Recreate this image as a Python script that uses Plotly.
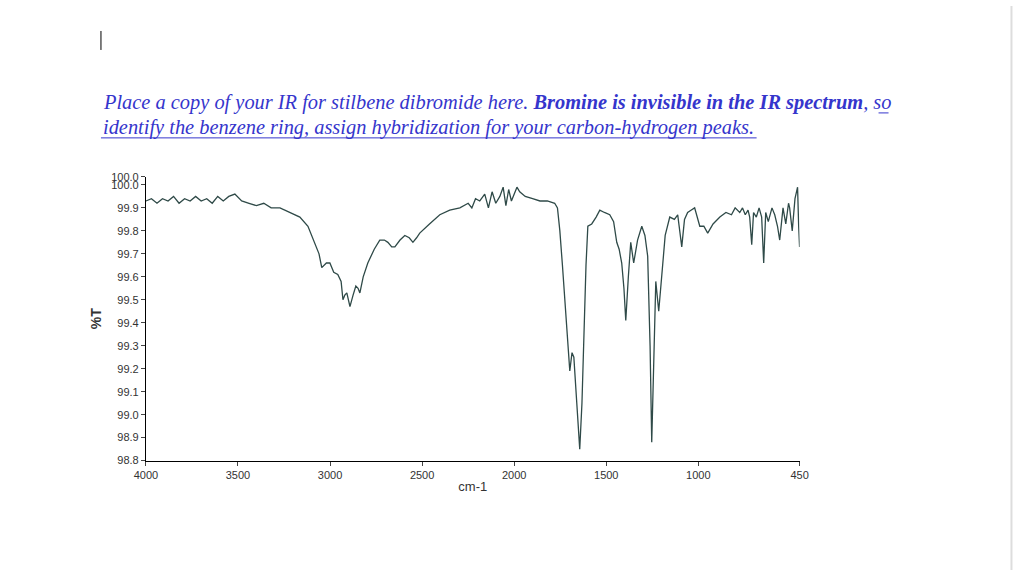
import plotly.graph_objects as go

# IR spectrum of stilbene dibromide
wavenumber = [4000, 3970, 3940, 3910, 3880, 3850, 3820, 3790, 3760, 3730, 3700, 3670, 3640, 3610,
              3580, 3550, 3517, 3480, 3440, 3400, 3360, 3320, 3272, 3220, 3164, 3120, 3083, 3060,
              3045, 3020, 3001, 2980, 2958, 2940, 2930, 2920, 2909, 2900, 2892, 2875, 2860, 2848,
              2838, 2820, 2795, 2760, 2730, 2705, 2686, 2665, 2648, 2620, 2594, 2570, 2550, 2530,
              2513, 2460, 2404, 2350, 2295, 2250, 2230, 2210, 2187, 2160, 2140, 2120, 2100, 2078,
              2060, 2045, 2030, 2015, 2000, 1985, 1970, 1940, 1900, 1860, 1820, 1780, 1765, 1752,
              1738, 1725, 1710, 1698, 1686, 1676, 1660, 1644, 1632, 1622, 1610, 1600, 1579, 1555,
              1535, 1510, 1481, 1460, 1443, 1430, 1416, 1404, 1394, 1380, 1367, 1351, 1330, 1307,
              1290, 1275, 1262, 1253, 1242, 1231, 1215, 1199, 1180, 1155, 1130, 1112, 1090, 1075,
              1058, 1040, 1020, 992, 970, 949, 920, 883, 850, 820, 800, 775, 760, 745, 730, 721,
              710, 700, 685, 670, 656, 645, 634, 620, 600, 585, 570, 558, 540, 525, 510, 504, 490,
              475, 461, 455, 450]
transmittance = [99.93, 99.94, 99.92, 99.94, 99.93, 99.95, 99.92, 99.94, 99.93, 99.95, 99.93, 99.94,
                 99.92, 99.95, 99.93, 99.95, 99.96, 99.93, 99.92, 99.91, 99.92, 99.90, 99.90, 99.88,
                 99.86, 99.82, 99.75, 99.70, 99.64, 99.66, 99.66, 99.62, 99.61, 99.58, 99.50, 99.52,
                 99.53, 99.49, 99.47, 99.52, 99.56, 99.55, 99.53, 99.60, 99.66, 99.72, 99.76, 99.76,
                 99.75, 99.73, 99.73, 99.76, 99.78, 99.77, 99.75, 99.77, 99.79, 99.83, 99.87, 99.89,
                 99.90, 99.92, 99.90, 99.94, 99.93, 99.96, 99.90, 99.97, 99.92, 99.95, 99.99, 99.91,
                 99.98, 99.93, 99.96, 99.99, 99.97, 99.95, 99.94, 99.93, 99.93, 99.92, 99.90, 99.80,
                 99.65, 99.49, 99.30, 99.19, 99.27, 99.25, 99.05, 98.85, 99.05, 99.36, 99.65, 99.82,
                 99.83, 99.86, 99.89, 99.88, 99.87, 99.84, 99.75, 99.72, 99.66, 99.55, 99.41, 99.60,
                 99.75, 99.66, 99.76, 99.82, 99.78, 99.69, 99.30, 98.88, 99.30, 99.58, 99.45, 99.62,
                 99.78, 99.86, 99.85, 99.87, 99.73, 99.85, 99.88, 99.89, 99.90, 99.82, 99.82, 99.79,
                 99.83, 99.86, 99.88, 99.87, 99.90, 99.88, 99.90, 99.87, 99.89, 99.86, 99.74, 99.88,
                 99.86, 99.90, 99.86, 99.66, 99.88, 99.84, 99.90, 99.87, 99.82, 99.76, 99.90, 99.83,
                 99.92, 99.90, 99.80, 99.94, 99.99, 99.82, 99.73]
ytick_vals = [98.8, 98.9, 99.0, 99.1, 99.2, 99.3, 99.4, 99.5, 99.6, 99.7, 99.8, 99.9, 100.0, 100.035]
ytick_text = ["98.8", "98.9", "99.0", "99.1", "99.2", "99.3", "99.4", "99.5", "99.6",
              "99.7", "99.8", "99.9", "100.0", "100.0"]
xtick_vals = [4000, 3500, 3000, 2500, 2000, 1500, 1000, 450]

line1 = ("Place a copy of your IR for stilbene dibromide here. "
         "<b>Bromine is invisible in the IR spectrum</b>, so")
line2 = "identify the benzene ring, assign hybridization for your carbon-hydrogen peaks. "

W, H = 1024, 576
S = 0.98  # the page shows up slightly shrunk, so compensate


def fx(x):
    return ((x - 12) / S) / W


def fy(y):
    return 1 - ((y - 4) / S) / H


fig = go.Figure()
fig.add_trace(go.Scatter(x=wavenumber, y=transmittance, mode="lines",
                         line=dict(color="#2f4a48", width=1.3), showlegend=False))

ink = "#3535cc"
fig.update_layout(
    width=W, height=H, margin=dict(l=0, r=0, t=0, b=0),
    paper_bgcolor="white", plot_bgcolor="white",
    font=dict(family="Liberation Sans, Arial", size=11, color="#333333"),
    xaxis=dict(domain=[fx(146), fx(800)], range=[4000, 450], showgrid=False, zeroline=False,
               tickvals=xtick_vals,
               showline=True, linecolor="black", ticks="outside", ticklen=4,
               title=dict(text="cm-1", font=dict(size=13), standoff=2)),
    yaxis=dict(domain=[fy(459), fy(175)], range=[98.8, 100.035], showgrid=False,
               zeroline=False, tickvals=ytick_vals, ticktext=ytick_text,
               showline=True, linecolor="black", ticks="outside", ticklen=4,
               title=dict(text="<b>%T</b>", font=dict(size=14), standoff=6)),
)

serif = dict(family="Liberation Serif", size=20.4, color=ink)
fig.add_annotation(x=fx(101), y=fy(101), xref="paper", yref="paper", xanchor="left",
                   yanchor="middle", showarrow=False, text="<i>" + line1 + "</i>", font=serif)
fig.add_annotation(x=fx(101), y=fy(126), xref="paper", yref="paper", xanchor="left",
                   yanchor="middle", showarrow=False, text="<i>" + line2 + "</i>", font=serif)
# underlines
fig.add_shape(type="line", xref="paper", yref="paper", x0=fx(101), x1=fx(757),
              y0=fy(136), y1=fy(136), line=dict(color=ink, width=1))
fig.add_shape(type="line", xref="paper", yref="paper", x0=fx(879), x1=fx(889),
              y0=fy(111), y1=fy(111), line=dict(color=ink, width=1))
# text cursor and page edge
fig.add_shape(type="line", xref="paper", yref="paper", x0=fx(101), x1=fx(101),
              y0=fy(29), y1=fy(48), line=dict(color="black", width=1))
fig.add_shape(type="line", xref="paper", yref="paper", x0=fx(1012), x1=fx(1012),
              y0=0, y1=1, line=dict(color="#dddddd", width=2))

fig.write_html("out.html", config={"displayModeBar": False},
               post_script="document.body.style.margin='0';document.body.style.overflow='hidden';"
                           "window.dispatchEvent(new Event('resize'));")
